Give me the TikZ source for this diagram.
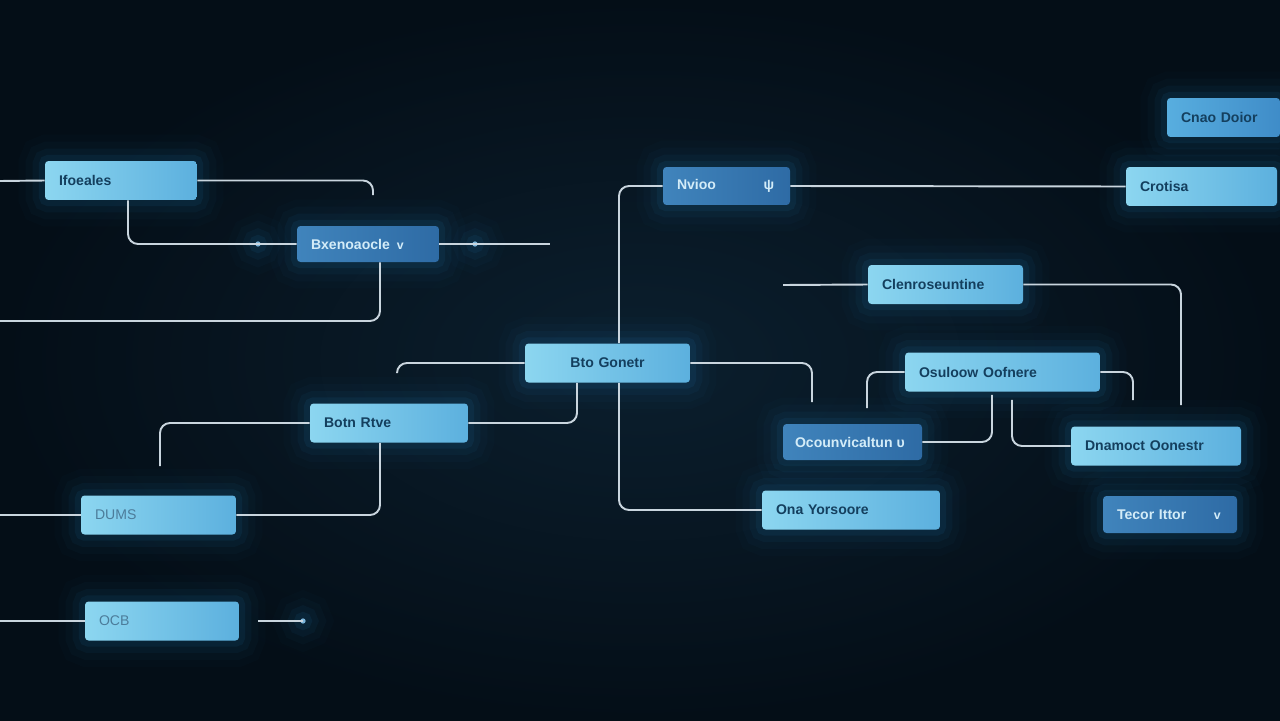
\documentclass[tikz,border=0pt]{standalone}
\usepackage{fontspec}
\setsansfont{Liberation Sans}
\usetikzlibrary{positioning}

\definecolor{bgdark}{HTML}{040E17}
\definecolor{bgmid}{HTML}{0B1F2E}
\definecolor{boxlight}{HTML}{8CD6F0}
\definecolor{boxlightr}{HTML}{5CB0DE}
\definecolor{boxmid}{HTML}{58AEDF}
\definecolor{boxmidr}{HTML}{3F8CC8}
\definecolor{boxdark}{HTML}{4084BC}
\definecolor{boxdarkr}{HTML}{2E6BA5}
\definecolor{glowc}{HTML}{2C95D8}
\definecolor{wirec}{HTML}{C9D5DE}
\definecolor{inkdark}{HTML}{143F5E}
\definecolor{inkgrey}{HTML}{4C7C9A}
\definecolor{inklight}{HTML}{D3ECF8}

\tikzset{
  glow/.style={
    preaction={draw=glowc, line width=30pt, opacity=0.02},
    preaction={draw=glowc, line width=22pt, opacity=0.03},
    preaction={draw=glowc, line width=14pt, opacity=0.05},
    preaction={draw=glowc, line width=7pt, opacity=0.08}},
  card/.style={glow, rounded corners=2pt, font=\sffamily\bfseries\fontsize{8}{9}\selectfont,
    inner xsep=0.28cm, inner ysep=0pt, minimum height=0.78cm, align=left},
  lightcard/.style={card, left color=boxlight, right color=boxlightr, text=inkdark},
  midcard/.style={card, left color=boxmid, right color=boxmidr, text=inkdark},
  darkcard/.style={card, left color=boxdark, right color=boxdarkr, text=inklight},
  wire/.style={draw=wirec, line width=1.1pt, rounded corners=0.2cm},
  spark/.style={circle, inner sep=0pt, minimum size=3pt, fill=wirec!50!glowc, glow}
}

\begin{document}
\begin{tikzpicture}[x=0.02cm, y=-0.02cm]

  % Background
  \shade[inner color=bgmid, outer color=bgdark] (0,0) rectangle (1280,720);
  \useasboundingbox (0,0) rectangle (1280,720);

  % Define nodes
  \node[lightcard, text width=2.48cm] (ifoe) at (121,180.5) {Ifoeales};
  \node[darkcard, text width=2.28cm, minimum height=0.72cm] (bxen) at (368,244) {Bxenoaocle \,{\scriptsize v}};
  \node[darkcard, text width=1.98cm, minimum height=0.76cm] (nvio) at (726.5,186) {Nvioo\hspace{0.95cm}ψ};
  \node[midcard, text width=1.70cm] (cnao) at (1223.5,117.5) {Cnao Doior};
  \node[lightcard, text width=2.46cm] (crot) at (1201.5,186.5) {Crotisa};
  \node[lightcard, text width=2.54cm] (clen) at (945.5,284.5) {Clenroseuntine};
  \node[lightcard, text width=2.74cm, align=center] (bto) at (607.5,363) {Bto Gonetr};
  \node[lightcard, text width=3.34cm] (osul) at (1002.5,372) {Osuloow Oofnere};
  \node[lightcard, text width=2.60cm] (botn) at (389,423) {Botn Rtve};
  \node[darkcard, text width=2.30cm, inner xsep=0.24cm, minimum height=0.72cm] (ocou) at (852.5,442) {Ocounvicaltun\hspace{0.08cm}υ};
  \node[lightcard, text width=2.84cm] (dnam) at (1156,446) {Dnamoct Oonestr};
  \node[lightcard, text width=2.54cm, text=inkgrey, font=\sffamily\fontsize{8}{9}\selectfont] (dums) at (158.5,515) {DUMS};
  \node[lightcard, text width=3.00cm] (ona) at (851,510) {Ona Yorsoore};
  \node[darkcard, text width=2.12cm, minimum height=0.74cm] (teco) at (1170,514.5) {Tecor Ittor\hspace{0.55cm}{\scriptsize v}};
  \node[lightcard, text width=2.52cm, text=inkgrey, font=\sffamily\fontsize{8}{9}\selectfont] (ocb) at (162,621) {OCB};

  % Free ends and sparks
  \coordinate (inIfoe) at (0,181);
  \coordinate (stubIfoe) at (373,195);
  \coordinate (outBxen) at (550,244);
  \coordinate (outLeft) at (0,321);
  \coordinate (stubClenW) at (783,285);
  \coordinate (stubClenE) at (1181,405);
  \coordinate (stubBtoW) at (397,372);
  \coordinate (stubBtoE) at (812,402);
  \coordinate (stubBotn) at (160,466);
  \coordinate (inDums) at (0,515);
  \coordinate (inOcb) at (0,621);
  \coordinate (tailA) at (258,621);
  \coordinate (tailB) at (303,621);
  \coordinate (stubOsulW) at (867,408);
  \coordinate (stubOsulE) at (1133,400);
  \node[spark] (sparkA) at (258,244) {};
  \node[spark] (sparkB) at (475,244) {};
  \node[spark] (sparkC) at (303,621) {};

  % Connect the nodes
  \draw[wire] (inIfoe) -- (ifoe.west);
  \draw[wire] (ifoe.east) -| (stubIfoe);
  \draw[wire] ([xshift=0.14cm]ifoe.south) |- (bxen.west);
  \draw[wire] (bxen.east) -- (outBxen);
  \draw[wire] ([xshift=0.24cm]bxen.south) |- (outLeft);
  \draw[wire] (nvio.west) -| ([xshift=0.23cm]bto.north);
  \draw[wire] ([xshift=0.23cm]bto.south) |- (ona.west);
  \draw[wire] (nvio.east) -- (crot.west);
  \draw[wire] (stubClenW) -- (clen.west);
  \draw[wire] (clen.east) -| (stubClenE);
  \draw[wire] (bto.west) -| (stubBtoW);
  \draw[wire] (bto.east) -| (stubBtoE);
  \draw[wire] ([xshift=-0.61cm]bto.south) |- (botn.east);
  \draw[wire] (botn.west) -| (stubBotn);
  \draw[wire] ([xshift=-0.18cm]botn.south) |- (dums.east);
  \draw[wire] (inDums) -- (dums.west);
  \draw[wire] (inOcb) -- (ocb.west);
  \draw[wire] (tailA) -- (tailB);
  \draw[wire] (osul.west) -| (stubOsulW);
  \draw[wire] (osul.east) -| (stubOsulE);
  \draw[wire] ([xshift=-0.21cm,yshift=-0.06cm]osul.south) |- (ocou.east);
  \draw[wire] ([xshift=0.19cm,yshift=-0.16cm]osul.south) |- (dnam.west);

\end{tikzpicture}
\end{document}
